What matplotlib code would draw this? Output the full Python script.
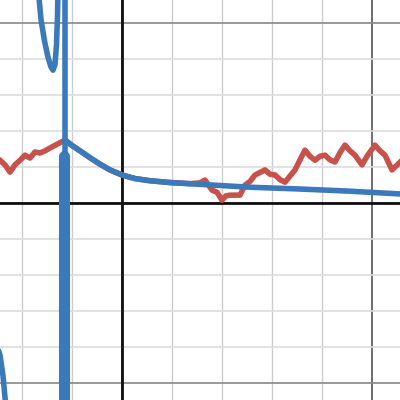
import matplotlib
matplotlib.use("Agg")
import matplotlib.pyplot as plt
import numpy as np

blue_right_x = [-1.14, -1.0, -0.84, -0.64, -0.44, -0.24, 0.0, 0.26, 0.56, 0.96, 1.56, 2.56, 3.56, 4.56, 5.6]
blue_right_y = [1.75, 1.6, 1.45, 1.26, 1.08, 0.92, 0.78, 0.68, 0.62, 0.57, 0.52, 0.44, 0.39, 0.33, 0.25]
loop_x = [-1.68, -1.62, -1.55, -1.48, -1.42, -1.38, -1.34, -1.31, -1.29, -1.28]
loop_y = [6.0, 5.1, 4.5, 4.05, 3.78, 3.69, 3.85, 4.4, 5.2, 6.0]
left_x = [-2.52, -2.44, -2.38, -2.32]
left_y = [-3.9, -4.22, -4.8, -5.7]
red_x = [-2.5, -2.44, -2.34, -2.24, -2.14, -2.04, -1.94, -1.84, -1.74, -1.64, -1.54, -1.44, -1.14,
         -1.0, -0.84, -0.64, -0.44, -0.24, 0.0, 0.26, 0.56, 0.96, 1.36, 1.56, 1.66, 1.8, 1.9, 2.0, 2.08, 2.16,
         2.36, 2.46, 2.56, 2.66, 2.76, 2.86, 2.96, 3.06, 3.16, 3.26, 3.36, 3.46, 3.56, 3.66, 3.76, 3.86, 3.96,
         4.06, 4.16, 4.26, 4.36, 4.46, 4.56, 4.66, 4.8, 4.9, 5.06, 5.16, 5.26, 5.4, 5.6]
red_y = [1.25, 1.19, 1.06, 0.86, 1.06, 1.19, 1.33, 1.25, 1.42, 1.39, 1.45, 1.53, 1.75,
         1.6, 1.45, 1.26, 1.08, 0.92, 0.78, 0.68, 0.62, 0.57, 0.54, 0.56, 0.64, 0.36, 0.3, 0.08, 0.2, 0.22,
         0.22, 0.5, 0.6, 0.78, 0.85, 0.92, 0.8, 0.78, 0.65, 0.58, 0.75, 0.92, 1.2, 1.47, 1.3, 1.19, 1.3,
         1.33, 1.2, 1.14, 1.4, 1.61, 1.45, 1.33, 1.06, 1.3, 1.61, 1.45, 1.33, 0.92, 1.19]
asym_x = -1.14
spike_top = 1.3

blue = "#3a7abb"
red = "#c9514b"

fig = plt.figure(figsize=(4, 4), dpi=100)
ax = fig.add_axes([0, 0, 1, 1])
ax.set_xlim(-2.44, 5.56)
ax.set_ylim(-5.47, 5.64)
for v in np.arange(-2, 6, 1):
    ax.axvline(v, color="#555" if v % 5 == 0 else "#ccc", lw=1.2 if v % 5 == 0 else 1, zorder=0)
for v in np.arange(-5, 6, 1):
    ax.axhline(v, color="#888" if v % 5 == 0 else "#ddd", lw=1.2, zorder=0)
ax.axvline(0, color="#111", lw=2, zorder=1)
ax.axhline(0, color="#111", lw=2, zorder=1)

ax.plot(red_x, red_y, color=red, lw=4, solid_joinstyle="round", zorder=2)
ax.plot(blue_right_x, blue_right_y, color=blue, lw=4, zorder=3)
ax.plot(loop_x, loop_y, color=blue, lw=4, zorder=3)
ax.plot(left_x, left_y, color=blue, lw=4, zorder=3)
ax.plot([asym_x, asym_x], [-6, 6], color=blue, lw=4, zorder=3)
ax.plot([asym_x - 0.02, asym_x - 0.02], [-6, spike_top], color=blue, lw=8, solid_capstyle="round", zorder=3)
ax.axis("off")
fig.savefig("out.png", dpi=100)
